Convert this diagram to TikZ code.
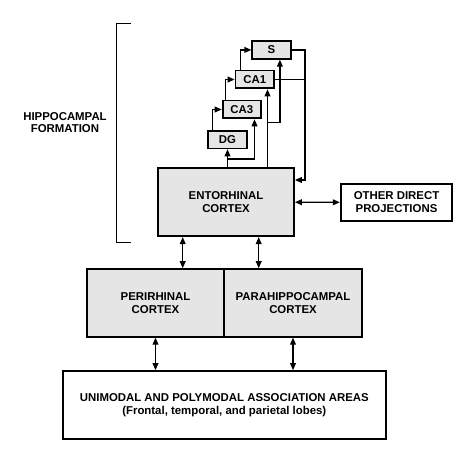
\documentclass[tikz,border=0pt]{standalone}
\usepackage{fontspec}
\setmainfont{Liberation Sans}
\usetikzlibrary{calc,arrows.meta}
\tikzset{
	region/.style={draw, line width=1.8pt, fill=black!10, inner sep=0pt, align=center,
		font=\fontsize{11.4}{12.8}\selectfont\bfseries},
	plainbox/.style={region, fill=white},
	subfield/.style={region, minimum width=38.4pt, minimum height=17.8pt},
	link/.style={line width=1.25pt, >={Triangle[length=7pt,width=5.8pt]}},
}

\begin{document}
\begin{tikzpicture}[x=1pt, y=-1pt]
		\useasboundingbox (0,0) rectangle (474,476);
		%%%%% BOXES %%%%%
		\node[region, minimum width=136pt, minimum height=68pt] (EC) at (226, 202.2) {ENTORHINAL\\CORTEX};
		\node[plainbox, minimum width=111.6pt, minimum height=36.7pt] (ODP) at (396.5, 202.3) {OTHER DIRECT\\PROJECTIONS};
		\node[region, minimum width=137.6pt, minimum height=67.7pt] (PER) at (155.5, 302.9) {PERIRHINAL\\CORTEX};
		\node[region, minimum width=137.4pt, minimum height=67.7pt] (PARA) at (293, 302.9) {PARAHIPPOCAMPAL\\CORTEX};
		\node[plainbox, minimum width=323.3pt, minimum height=68.3pt] (UNI) at (224.3, 405.2) {UNIMODAL AND POLYMODAL ASSOCIATION AREAS\\(Frontal, temporal, and parietal lobes)};
		
		\node[subfield] (DG) at (227.5, 139.5) {DG};
		\node[subfield] (CA3) at (241.8, 109.5) {CA3};
		\node[subfield] (CA1) at (254.7, 79.5) {CA1};
		\node[subfield] (S) at (271.5, 49.9) {S};
		
		%%%%% BRACKET %%%%%
		\draw[line width=1pt] (130.7, 23.3) -- (116.7, 23.3) -- (116.7, 242.7) -- (130.7, 242.7);
		\node[font=\fontsize{11.4}{12.8}\selectfont\bfseries, align=center] (HF) at (65, 122.5) {HIPPOCAMPAL\\FORMATION};
		
		%%%%% TRISYNAPTIC LOOP %%%%%
		\draw[link,->] ($(DG.north west)+(5,0)$) |- (CA3.west);
		\draw[link,->] ($(CA3.north west)+(4,0)$) |- (CA1.west);
		\draw[link,->] ($(CA1.north west)+(5.7,0)$) |- (S.west);
		
		\coordinate (toCAthree) at ($(CA3.south east)+(-7.4,0)$);
		\coordinate (toCAone) at ($(CA1.south east)+(-7.3,0)$);
		\coordinate (toS) at ($(S.south east)+(-11.7,0)$);
		\coordinate (back) at (305, 180);
		
		\draw[link,->] (DG.south |- EC.north) -- (DG.south);
		\draw[link,->] (DG.south |- 0,159) -| (toCAthree);
		\draw[link,->] (toCAone |- EC.north) -- (toCAone);
		\draw[link,->] (toCAone |- 0,122.3) -| (toS);
		
		\draw[link,->] (S.east) -| (back) -- (back -| EC.east);
		\draw[link] (CA1.east) -- (CA1.east -| back);
		
		%%%%% CORTICAL LINKS %%%%%
		\draw[link,<->] (EC.east) -- (ODP.west);
		\draw[link,<->] (182.7,0 |- EC.south) -- (182.7,0 |- PER.north);
		\draw[link,<->] (258.7,0 |- EC.south) -- (258.7,0 |- PARA.north);
		\draw[link,<->] (PER.south) -- (PER.south |- UNI.north);
		\draw[link,<->] (PARA.south) -- (PARA.south |- UNI.north);
	\end{tikzpicture}
\end{document}
